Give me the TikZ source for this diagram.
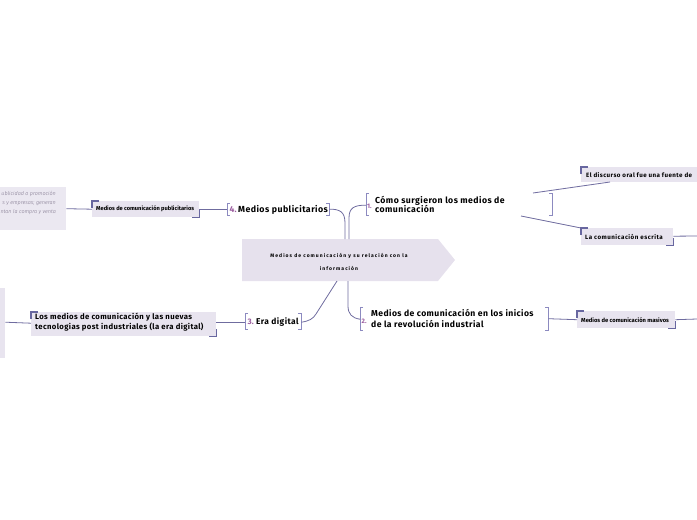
\documentclass[tikz,border=0pt]{standalone}
\usepackage{fontspec}
\setmainfont{Fira Sans}[BoldFont={Fira Sans Bold},ItalicFont={Fira Sans Light Italic}]
\definecolor{linec}{HTML}{6F6C9F}
\definecolor{brc}{HTML}{8C8AC0}
\definecolor{cornc}{HTML}{6867A0}
\definecolor{boxfill}{HTML}{E8E4EF}
\definecolor{cfill}{HTML}{E6E1ED}
\definecolor{numc}{HTML}{9A5C9E}
\definecolor{leftc}{HTML}{7A7088}
\tikzset{
  conn/.style={draw=linec,line width=0.8pt},
  brk/.style={draw=brc,line width=0.9pt},
  corner/.style={draw=cornc,line width=1.7pt},
  sbox/.style={fill=boxfill,draw=none},
  lbl/.style={anchor=west,inner sep=0pt,align=left},
  area/.style={draw=none,inner sep=0pt,anchor=north west},
}
\begin{document}
\begin{tikzpicture}[x=1pt,y=-1pt]
\useasboundingbox (0,0) rectangle (697,520);
% central node
\path[fill=cfill] (242,239) -- (438,239) -- (455,260) -- (438,281) -- (242,281) -- cycle;
\node[inner sep=0pt,align=center,font=\fontsize{5}{13.5}\selectfont\bfseries\addfontfeature{LetterSpace=21}] (c) at (339,262) {Medios de comunicación y su relación con la\\información};
\coordinate (cn4) at (345,239);
\coordinate (cn1) at (349,239);
\coordinate (cs2) at (348,281);
\coordinate (cs3) at (337,281);

% topic 1
\node[area,minimum width=186pt,minimum height=22pt] (t1) at (366,193) {};
\draw[brk] ([xshift=3pt]t1.north west) -- (t1.north west) -- (t1.south west) -- ([xshift=3pt]t1.south west);
\draw[brk] ([xshift=-3pt]t1.north east) -- (t1.north east) -- (t1.south east) -- ([xshift=-3pt]t1.south east);
\node[lbl,font=\fontsize{6.5}{6}\selectfont\bfseries,text=numc] (n1) at (367,206) {1.};
\node[lbl,font=\fontsize{8.7}{9.5}\selectfont\bfseries\addfontfeature{LetterSpace=5}] (l1) at (375,204.5) {Cómo surgieron los medios de\\comunicación};

% topic 4
\node[area,minimum width=102pt,minimum height=12pt] (t4) at (227,203) {};
\draw[brk] ([xshift=3pt]t4.north west) -- (t4.north west) -- (t4.south west) -- ([xshift=3pt]t4.south west);
\draw[brk] ([xshift=-3pt]t4.north east) -- (t4.north east) -- (t4.south east) -- ([xshift=-3pt]t4.south east);
\node[lbl,font=\fontsize{8.6}{9}\selectfont\bfseries,text=numc] (n4) at (229.5,209.5) {4.};
\node[lbl,font=\fontsize{8.8}{9}\selectfont\bfseries\addfontfeature{LetterSpace=5}] (l4) at (238,209.5) {Medios publicitarios};

% topic 3
\node[area,minimum width=56pt,minimum height=16pt] (t3) at (245,313) {};
\draw[brk] ([xshift=3pt]t3.north west) -- (t3.north west) -- (t3.south west) -- ([xshift=3pt]t3.south west);
\draw[brk] ([xshift=-3pt]t3.north east) -- (t3.north east) -- (t3.south east) -- ([xshift=-3pt]t3.south east);
\node[lbl,font=\fontsize{8}{9}\selectfont\bfseries,text=numc] (n3) at (247.5,322) {3.};
\node[lbl,font=\fontsize{8.4}{9}\selectfont\bfseries\addfontfeature{LetterSpace=5}] (l3) at (256,322) {Era digital};

% topic 2
\node[area,minimum width=188pt,minimum height=23pt] (t2) at (360,307) {};
\draw[brk] ([xshift=3pt]t2.north west) -- (t2.north west) -- (t2.south west) -- ([xshift=3pt]t2.south west);
\draw[brk] ([xshift=-3pt]t2.north east) -- (t2.north east) -- (t2.south east) -- ([xshift=-3pt]t2.south east);
\node[lbl,font=\fontsize{6.5}{6}\selectfont\bfseries,text=numc] (n2) at (361.5,321) {2.};
\node[lbl,font=\fontsize{8.6}{10.5}\selectfont\bfseries\addfontfeature{LetterSpace=5}] (l2) at (371,318.5) {Medios de comunicación en los inicios\\de la revolución industrial};

% small boxes
\node[sbox,area,minimum width=107pt,minimum height=16pt] (bpub) at (92,201) {};
\draw[corner] ([yshift=-7pt]bpub.north west) -- (bpub.north west) -- ([xshift=7pt]bpub.north west);
\draw[corner] ([xshift=-7pt]bpub.south east) -- (bpub.south east) -- ([yshift=7pt]bpub.south east);
\node[lbl,font=\fontsize{5.7}{6}\selectfont\bfseries] (lpub) at (96,209) {Medios de comunicación publicitarios};

\node[sbox,area,minimum width=185pt,minimum height=24pt] (bera) at (31,312) {};
\draw[corner] ([yshift=-7pt]bera.north west) -- (bera.north west) -- ([xshift=7pt]bera.north west);
\draw[corner] ([xshift=-7pt]bera.south east) -- (bera.south east) -- ([yshift=7pt]bera.south east);
\node[lbl,font=\fontsize{7.7}{10}\selectfont\bfseries\addfontfeature{LetterSpace=5}] (lera) at (35,322) {Los medios de comunicación y las nuevas\\tecnologias post industriales (la era digital)};

\node[sbox,area,minimum width=98pt,minimum height=17pt] (bmas) at (577,311) {};
\draw[corner] ([yshift=-7pt]bmas.north west) -- (bmas.north west) -- ([xshift=7pt]bmas.north west);
\draw[corner] ([xshift=-7pt]bmas.south east) -- (bmas.south east) -- ([yshift=7pt]bmas.south east);
\node[lbl,font=\fontsize{5.8}{6}\selectfont\bfseries] (lmas) at (581,320) {Medios de comunicación masivos};

\node[sbox,area,minimum width=130pt,minimum height=15pt] (bdis) at (581,167) {};
\draw[corner] ([yshift=-7pt]bdis.north west) -- (bdis.north west) -- ([xshift=7pt]bdis.north west);
\node[lbl,font=\fontsize{6.2}{6}\selectfont\bfseries\addfontfeature{LetterSpace=7}] (ldis) at (586,175) {El discurso oral fue una fuente de};

\node[sbox,area,minimum width=92pt,minimum height=17pt] (besc) at (581,228) {};
\draw[corner] ([yshift=-7pt]besc.north west) -- (besc.north west) -- ([xshift=7pt]besc.north west);
\draw[corner] ([xshift=-7pt]besc.south east) -- (besc.south east) -- ([yshift=7pt]besc.south east);
\node[lbl,font=\fontsize{6.2}{6}\selectfont\bfseries\addfontfeature{LetterSpace=8}] (lesc) at (585,237) {La comunicación escrita};

% left boxes
\node[fill=boxfill!85!white,draw=boxfill!80!gray,line width=0.4pt,area,minimum width=80pt,minimum height=43pt] (bleft) at (-14,187) {};
\node[anchor=north east,inner sep=0pt,align=right,text=leftc,font=\fontsize{5.4}{9}\selectfont\itshape] (lleft) at (56,191.5) {ublicidad o promoción\\s y empresas; generan\\ntan la compra y venta};
\node[fill=boxfill,draw=boxfill!80!gray,line width=0.4pt,area,minimum width=19pt,minimum height=70pt] (bfar) at (-14,288) {};

% connectors
\draw[conn] (cn4) -- (345,223) .. controls (345,212) and (340,209) .. (t4.east);
\draw[conn] (cn1) -- (349,218) .. controls (349,208) and (354,205) .. ([yshift=-1pt]t1.west);
\draw[conn] (cs2) -- (348,306) .. controls (348,314) and (352,318) .. ([yshift=-0.5pt]t2.west);
\draw[conn] (cs3) -- (316,314) .. controls (313,319) and (309,321) .. ([yshift=-1pt]t3.east);
\draw[conn] (t4.west) -- (bpub.east);
\draw[conn] (bpub.west) -- (bleft.east);
\draw[conn] ([yshift=-1pt]t3.west) -- ([yshift=2pt]bera.east);
\draw[conn] ([yshift=1pt]bera.west) -- ([yshift=1pt]bfar.east);
\draw[conn] (t2.east) -- (bmas.west);
\coordinate (rmas) at (697,319);
\draw[conn] (bmas.east) -- (rmas);
\coordinate (a1) at (533,193);
\coordinate (a2) at (521,216);
\coordinate (dis) at (610,182);
\draw[conn] (a1) -- (dis);
\draw[conn] (a2) -- (besc.north west);
\coordinate (resc) at (697,236);
\draw[conn] ([yshift=0.5pt]besc.east) -- (resc);
\end{tikzpicture}
\end{document}
